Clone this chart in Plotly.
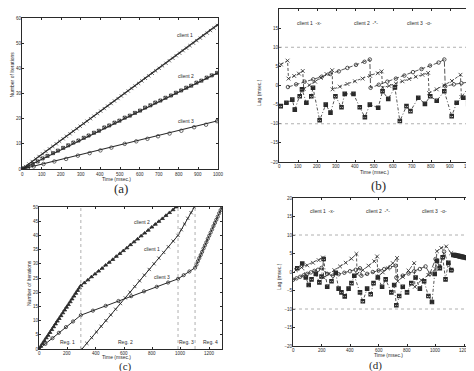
import plotly.graph_objects as go

# ---------------- tick values ----------------
a_xticks = [0, 100, 200, 300, 400, 500, 600, 700, 800, 900, 1000]
a_yticks = [0, 10, 20, 30, 40, 50, 60]
b_xticks = [0, 100, 200, 300, 400, 500, 600, 700, 800, 900, 1000]
lag_yticks = [-20, -15, -10, -5, 0, 5, 10, 15, 20]
c_xticks = [0, 200, 400, 600, 800, 1000, 1200]
c_yticks = [0, 5, 10, 15, 20, 25, 30, 35, 40, 45, 50]
d_xticks = [0, 200, 400, 600, 800, 1000, 1200]

# ---------------- (a) Number of iterations vs time ----------------
a_line_t = [0, 1000]
a_c1_line = [0, 57.5]
a_c2_line = [0, 38.2]
a_c3_line = [0, 19.2]

a_c1_t = [5, 18, 35, 52, 70, 87, 105, 122, 140, 157, 175, 192, 210, 227, 245, 262, 280, 297, 315, 332,
          350, 367, 385, 402, 420, 437, 455, 472, 490, 507, 525, 542, 560, 577, 595, 612, 630, 647, 665, 682,
          700, 717, 735, 752, 770, 787, 805, 822, 840, 857, 875, 892, 910, 927, 945, 962, 980, 997]
a_c1_n = [0, 1, 2, 3, 4, 5, 6, 7, 8, 9, 10, 11, 12, 13, 14, 15, 16, 17, 18, 19,
          20, 21, 22, 23, 24, 25, 26, 27, 28, 29, 30, 31, 32, 33, 34, 35, 36, 37, 38, 39,
          40, 41, 42, 43, 44, 45, 46, 47, 48, 49, 50, 51, 52, 53, 54, 55, 56, 57]

a_c2_t = [10, 30, 55, 80, 105, 130, 158, 183, 210, 236, 262, 288, 315, 340, 367, 392, 420, 445, 472, 497,
          524, 550, 576, 602, 628, 655, 680, 706, 732, 760, 785, 812, 838, 863, 890, 915, 942, 968, 995]
a_c2_n = [0.3, 1, 2, 3, 4.2, 5.2, 6.3, 7.3, 8.4, 9.4, 10.5, 11.3, 12.4, 13.3, 14.4, 15.2, 16.5, 17.3, 18.4, 19.2,
          20.4, 21.2, 22.3, 23.2, 24.4, 25.3, 26.4, 27.2, 28.3, 29.2, 30.3, 31.2, 32.3, 33.1, 34.3, 35.1, 36.3, 37.2, 38.2]

a_c3_t = [0, 30, 60, 110, 165, 225, 285, 345, 400, 456, 524, 583, 640, 694, 753, 813, 878, 939, 995]
a_c3_n = [0, 0.4, 1, 2, 3, 4, 5.3, 6.3, 7.4, 8.5, 10, 11, 12, 13, 14.1, 15.2, 16.6, 17.6, 19]

# ---------------- (b) Lag vs time ----------------
b_c1_t = [10, 45, 50, 80, 105, 125, 130, 160, 190, 220, 250, 280, 282, 320, 360, 400, 440, 480, 520, 540,
          545, 580, 615, 650, 685, 720, 755, 785, 790, 830, 870, 910, 955, 960, 1000]
b_c1_lag = [5.5, 6.5, 1.8, 2.5, 3.1, 3.8, -0.9, 0.1, 1.0, 2.0, 3.0, 4.0, -1.0, -0.3, 0.4, 1.1, 1.8, 2.5, 3.2, 3.7,
            -0.6, -0.1, 0.5, 1.1, 1.7, 2.3, 2.8, 3.3, -2.0, -1.0, 0.0, 1.2, 2.8, -3.0, -0.5]

b_c2_t = [9, 39, 70, 83, 109, 121, 144, 170, 179, 214, 246, 271, 297, 329, 346, 392, 425, 452, 478, 522,
          545, 575, 610, 636, 671, 692, 733, 768, 796, 830, 870, 909, 935, 970, 996]
b_c2_lag = [-5.4, -4.5, -3.7, -6.3, -2.8, -1.0, -4.5, -2.8, -0.6, -9.1, -5.0, -7.1, -2.8, -5.7, -2.2, -2.2, -5.7, -8.3, -5.0, -5.8,
            -1.5, -3.5, -0.5, -9.3, -5.4, -6.7, -3.2, -4.8, -2.8, -4.0, -1.5, -8.0, -4.5, -3.2, -4.8]

b_c3_t = [47, 90, 135, 180, 225, 270, 315, 360, 405, 450, 478, 482, 525, 570, 615, 660, 705, 750, 795, 840,
          870, 875, 920, 960, 1000]
b_c3_lag = [-0.4, 0.3, 1.0, 1.6, 2.3, 3.0, 3.7, 4.6, 5.4, 6.2, 6.8, -0.6, 0.2, 1.0, 1.8, 2.6, 3.5, 4.3, 5.2, 6.0,
            6.8, -0.2, 0.3, 0.6, 0.9]

# ---------------- (c) Number of iterations, four regimes ----------------
c_c2_t = [0, 12, 25, 38, 51, 64, 77, 90, 103, 116, 129, 142, 155, 168, 181, 194, 207, 220, 233, 246, 259, 272, 285, 295,
          320, 345, 370, 395, 420, 445, 470, 495, 520, 545, 570, 595, 620, 645, 670, 695, 720, 745, 770, 795, 820,
          845, 870, 895, 920, 945, 967]
c_c2_n = [0, 0.9, 1.9, 2.9, 3.9, 4.8, 5.8, 6.8, 7.8, 8.8, 9.8, 10.7, 11.7, 12.7, 13.7, 14.7, 15.6, 16.6, 17.6, 18.6, 19.6, 20.6, 21.5, 22.3,
          23.3, 24.3, 25.4, 26.4, 27.4, 28.4, 29.5, 30.5, 31.5, 32.6, 33.6, 34.6, 35.6, 36.7, 37.7, 38.7, 39.8, 40.8, 41.8, 42.9, 43.9,
          44.9, 45.9, 47.0, 48.0, 49.0, 50.0]

c_c1_t = [303, 337, 371, 405, 438, 472, 506, 540, 574, 608, 642, 675, 709, 743, 777, 811, 845, 879, 912, 946, 980,
          1003, 1026, 1049, 1072, 1095]
c_c1_n = [0, 2, 4, 6, 8, 10, 12, 14, 16, 18, 20, 22, 24, 26, 28, 30, 32, 34, 36, 38, 40,
          42, 44, 46, 48, 50]

c_c3_t = [0, 45, 95, 140, 190, 240, 295, 380, 470, 560, 650, 740, 830, 910, 980, 1020, 1060, 1100,
          1110, 1120, 1130, 1140, 1150, 1160, 1170, 1180, 1190, 1200, 1210, 1220, 1230, 1240, 1250, 1260, 1270, 1280, 1290]
c_c3_n = [0, 1.8, 3.8, 5.7, 7.7, 9.7, 11.9, 13.5, 15.2, 16.9, 18.6, 20.3, 21.9, 23.4, 24.7, 26.0, 27.3, 28.6,
          29.7, 30.9, 32.0, 33.1, 34.2, 35.4, 36.5, 37.6, 38.8, 39.9, 41.0, 42.1, 43.3, 44.4, 45.5, 46.6, 47.8, 48.9, 50.0]

c_reg_bounds = [295, 980, 1100]
c_reg_labels = ["Reg. 1", "Reg. 2", "Reg. 3", "Reg. 4"]
c_reg_label_t = [200, 610, 1037, 1208]

# ---------------- (d) Lag vs time, four regimes ----------------
d_c1_t = [20, 60, 100, 140, 180, 210, 215, 250, 290, 330, 370, 410, 445, 450, 490, 530, 570, 590, 595, 630,
          665, 700, 730, 735, 770, 810, 850, 855, 900, 950, 1000, 1010, 1040, 1075, 1110]
d_c1_lag = [0.5, 1.2, 1.8, 2.5, 3.2, 3.9, -1.5, -0.5, 0.5, 1.5, 2.5, 3.6, 4.9, -0.5, 0.5, 1.7, 2.9, 4.2, -1.2, -0.1,
            1.0, 2.4, 3.8, -2.5, -1.3, 0.4, 2.4, -4.0, -2.2, -0.8, 0.8, 5.6, 6.5, 6.9, 5.1]

d_c2_t = [30, 65, 90, 110, 130, 160, 185, 200, 215, 240, 270, 300, 320, 340, 363, 390, 410, 430, 470, 490,
          520, 545, 565, 595, 625, 650, 690, 710, 725, 745, 770, 800, 830, 860, 890, 920, 950, 975, 994, 1010,
          1030, 1050, 1070, 1090, 1110]
d_c2_lag = [1.0, 2.3, -1.5, -3.5, -2.0, -0.5, -2.8, -1.2, 3.5, -4.0, -2.5, -0.2, -4.5, -5.5, -6.6, -4.5, -3.0, -1.0, -5.5, -7.9,
            -4.5, -6.0, -3.0, -1.5, -4.0, -2.0, -5.5, -3.5, -9.0, -6.5, -4.0, -5.5, -3.0, -1.5, -4.5, -2.5, -6.5, -8.1, -0.5, 3.0,
            1.0, 4.0, -2.0, 2.5, 0.5]

d_c3_t = [0, 25, 50, 75, 100, 125, 150, 175, 200, 240, 280, 320, 360, 400, 440, 470, 480, 520, 560, 600,
          640, 680, 720, 725, 770, 810, 850, 890, 930, 960, 1000, 1030, 1060, 1090, 1115]
d_c3_lag = [-2.1, -1.7, -1.3, -0.9, -0.5, -0.1, 0.3, 0.6, 1.1, -0.5, -1.0, -0.6, -0.2, 0.2, 0.6, 1.0, -1.0, -0.5, 0.0, 0.4,
            0.8, 1.3, 1.7, -1.5, -1.0, -0.4, 0.2, 0.8, 1.5, -0.5, 3.5, 1.5, 5.5, 2.0, 0.5]

d_tail_t = [1125, 1133, 1141, 1149, 1157, 1165, 1173, 1181, 1189, 1197, 1205, 1213, 1221, 1229, 1237, 1245,
            1253, 1261, 1269, 1277, 1285, 1293, 1301, 1309, 1317]
d_tail_lag = [4.6, 4.6, 4.5, 4.4, 4.4, 4.3, 4.2, 4.2, 4.1, 4.0, 4.0, 3.9, 3.8, 3.8, 3.7, 3.6,
              3.5, 3.5, 3.4, 3.3, 3.2, 3.2, 3.1, 3.0, 2.9]

lag_bands = [10, -10]

INK = "#2a2a2a"
FONT = "Liberation Sans, Arial, sans-serif"

fig = go.Figure()

def lt(xs, ys, xa, ya, dash="solid", width=1.0):
    fig.add_trace(go.Scatter(x=xs, y=ys, xaxis=xa, yaxis=ya, mode="lines",
                             line=dict(color=INK, width=width, dash=dash), hoverinfo="skip"))

def mk(xs, ys, xa, ya, symbol, size=4, mode="markers", dash="solid", lw=1.0, mlw=0.8):
    fig.add_trace(go.Scatter(x=xs, y=ys, xaxis=xa, yaxis=ya, mode=mode,
                             line=dict(color=INK, width=lw, dash=dash),
                             marker=dict(symbol=symbol, size=size, color=INK,
                                         line=dict(color=INK, width=mlw)),
                             hoverinfo="skip"))

# (a)
lt(a_line_t, a_c1_line, "x", "y", width=1.1)
lt(a_line_t, a_c2_line, "x", "y", width=1.1)
lt(a_line_t, a_c3_line, "x", "y", width=1.1)
mk(a_c1_t, a_c1_n, "x", "y", "x-thin-open", 3.2, mlw=0.7)
mk(a_c2_t, a_c2_n, "x", "y", "square-x-open", 3, mlw=0.8)
mk(a_c3_t, a_c3_n, "x", "y", "circle-open", 3.5, mlw=0.7)

# (b)
D1 = "3px,2px"
D2 = "3px,2px,1px,2px"
D3 = "5px,2px"
mk(b_c1_t, b_c1_lag, "x2", "y2", "x-thin-open", 3.8, "lines+markers", D1, 0.8)
mk(b_c2_t, b_c2_lag, "x2", "y2", "square-x-open", 3.5, "lines+markers", D2, 0.8, 1.1)
mk(b_c3_t, b_c3_lag, "x2", "y2", "circle-open", 3.5, "lines+markers", D3, 0.8)

# (c)
mk(c_c2_t, c_c2_n, "x3", "y3", "triangle-up", 3.5, "lines+markers", "solid", 1.0)
mk(c_c1_t, c_c1_n, "x3", "y3", "x-thin-open", 3.2, "lines+markers", "solid", 1.0)
mk(c_c3_t, c_c3_n, "x3", "y3", "circle-open", 3.2, "lines+markers", "solid", 1.0)

# (d)
mk(d_c1_t, d_c1_lag, "x4", "y4", "x-thin-open", 3.8, "lines+markers", D1, 0.8)
mk(d_c2_t, d_c2_lag, "x4", "y4", "square-x-open", 3.5, "lines+markers", D2, 0.8, 1.1)
mk(d_c3_t, d_c3_lag, "x4", "y4", "circle-open", 3.5, "lines+markers", D3, 0.8)
mk(d_tail_t, d_tail_lag, "x4", "y4", "square-x-open", 3.5, "lines+markers", D2, 0.8, 1.1)

shapes = []
for yv in lag_bands:
    for xr, yr in (("x2 domain", "y2"), ("x4 domain", "y4")):
        shapes.append(dict(type="line", xref=xr, yref=yr, x0=0, x1=1, y0=yv, y1=yv,
                           line=dict(color="#b0b0b0", width=1, dash="dot")))
for xv in c_reg_bounds:
    shapes.append(dict(type="line", xref="x3", yref="y3 domain", x0=xv, x1=xv, y0=0, y1=1,
                       line=dict(color="#b0b0b0", width=1, dash="dot")))

ann = []
def txt(x, y, s, xref="paper", yref="paper", size=5, angle=0, family=FONT, xanchor="center"):
    ann.append(dict(x=x, y=y, xref=xref, yref=yref, text=s, showarrow=False, textangle=angle,
                    borderpad=0,
                    font=dict(size=size, family=family, color=INK), xanchor=xanchor, yanchor="middle"))

# x tick labels placed just below each axis (positioned through the axis scale)
for ticks, xr, ypx in ((a_xticks, "x", 166), (b_xticks, "x2", 158.5), (c_xticks, "x3", 345), (d_xticks, "x4", 342.5)):
    for tv in ticks:
        txt(tv, 1 - ypx/371, str(tv), xref=xr, size=4.5)

# panel captions
SERIF = "Liberation Serif, Times New Roman, serif"
txt(113/474, 1-180/371, "(a)", size=13, family=SERIF)
txt(370/474, 1-177/371, "(b)", size=13, family=SERIF)
txt(117/474, 1-358/371, "(c)", size=11, family=SERIF)
txt(367/474, 1-357.5/371, "(d)", size=11, family=SERIF)

# axis titles
txt(108/474, 1-171/371, "Time (msec.)")
txt(3.5/474, 1-67/371, "Number of Iterations", angle=-90)
txt(366/474, 1-163.5/371, "Time (msec.)")
txt(251/474, 1-85/371, "Lag (msec.)", angle=-90)
txt(108/474, 1-348.5/371, "Time (msec.)")
txt(21/474, 1-275/371, "Number of Iterations", angle=-90)
txt(380/474, 1-347/371, "Time (msec.)")
txt(271/474, 1-269/371, "Lag (msec.)", angle=-90)

# in-plot labels
txt(832, 53.2, "client 1", "x", "y")
txt(836, 37, "client 2", "x", "y")
txt(838, 19, "client 3", "x", "y")
txt(158, 16.3, "client 1  -x-", "x2", "y2")
txt(458, 16.3, "client 2  -*-", "x2", "y2")
txt(742, 16.3, "client 3  -o-", "x2", "y2")
txt(723, 44.7, "client 2", "x3", "y3")
txt(799, 35.2, "client 1", "x3", "y3")
txt(864, 25.4, "client 3", "x3", "y3")
for lab, tx in zip(c_reg_labels, c_reg_label_t):
    txt(tx, 2.4, lab, "x3", "y3")
txt(204, 16.5, "client 1  -x-", "x4", "y4")
txt(596, 16.5, "client 2  -*-", "x4", "y4")
txt(996, 16.5, "client 3  -o-", "x4", "y4")

axis_common = dict(showline=True, mirror="ticks", linecolor=INK, linewidth=1, ticks="inside",
                   ticklen=2, tickcolor=INK, showgrid=False, zeroline=False,
                   tickfont=dict(size=4.5, family=FONT, color=INK), automargin=False)
xa_common = dict(axis_common, showticklabels=False)
ya_common = dict(axis_common, ticklabelstandoff=-1)

fig.update_layout(
    width=474, height=371, margin=dict(l=0, r=0, t=0, b=0),
    paper_bgcolor="white", plot_bgcolor="white", showlegend=False,
    xaxis=dict(domain=[14/474, 210/474], range=[0, 1000], tickvals=a_xticks, anchor="y", **xa_common),
    yaxis=dict(domain=[1-161/371, 1-10/371], range=[0, 60], tickvals=a_yticks, anchor="x", **ya_common),
    xaxis2=dict(domain=[271/474, 461/474], range=[0, 1000], tickvals=b_xticks, anchor="y2", **xa_common),
    yaxis2=dict(domain=[1-154/371, 1-1/371], range=[-20, 20], tickvals=lag_yticks, anchor="x2", **ya_common),
    xaxis3=dict(domain=[31/474, 214/474], range=[0, 1290], tickvals=c_xticks, anchor="y3", **xa_common),
    yaxis3=dict(domain=[1-341/371, 1-199/371], range=[0, 50], tickvals=c_yticks, anchor="x3", **ya_common),
    xaxis4=dict(domain=[285/474, 1.0], range=[0, 1326], tickvals=d_xticks, anchor="y4", **xa_common),
    yaxis4=dict(domain=[1-338/371, 1-190/371], range=[-20, 20], tickvals=lag_yticks, anchor="x4", **ya_common),
    shapes=shapes, annotations=ann,
)

fig.write_html("out.html")
